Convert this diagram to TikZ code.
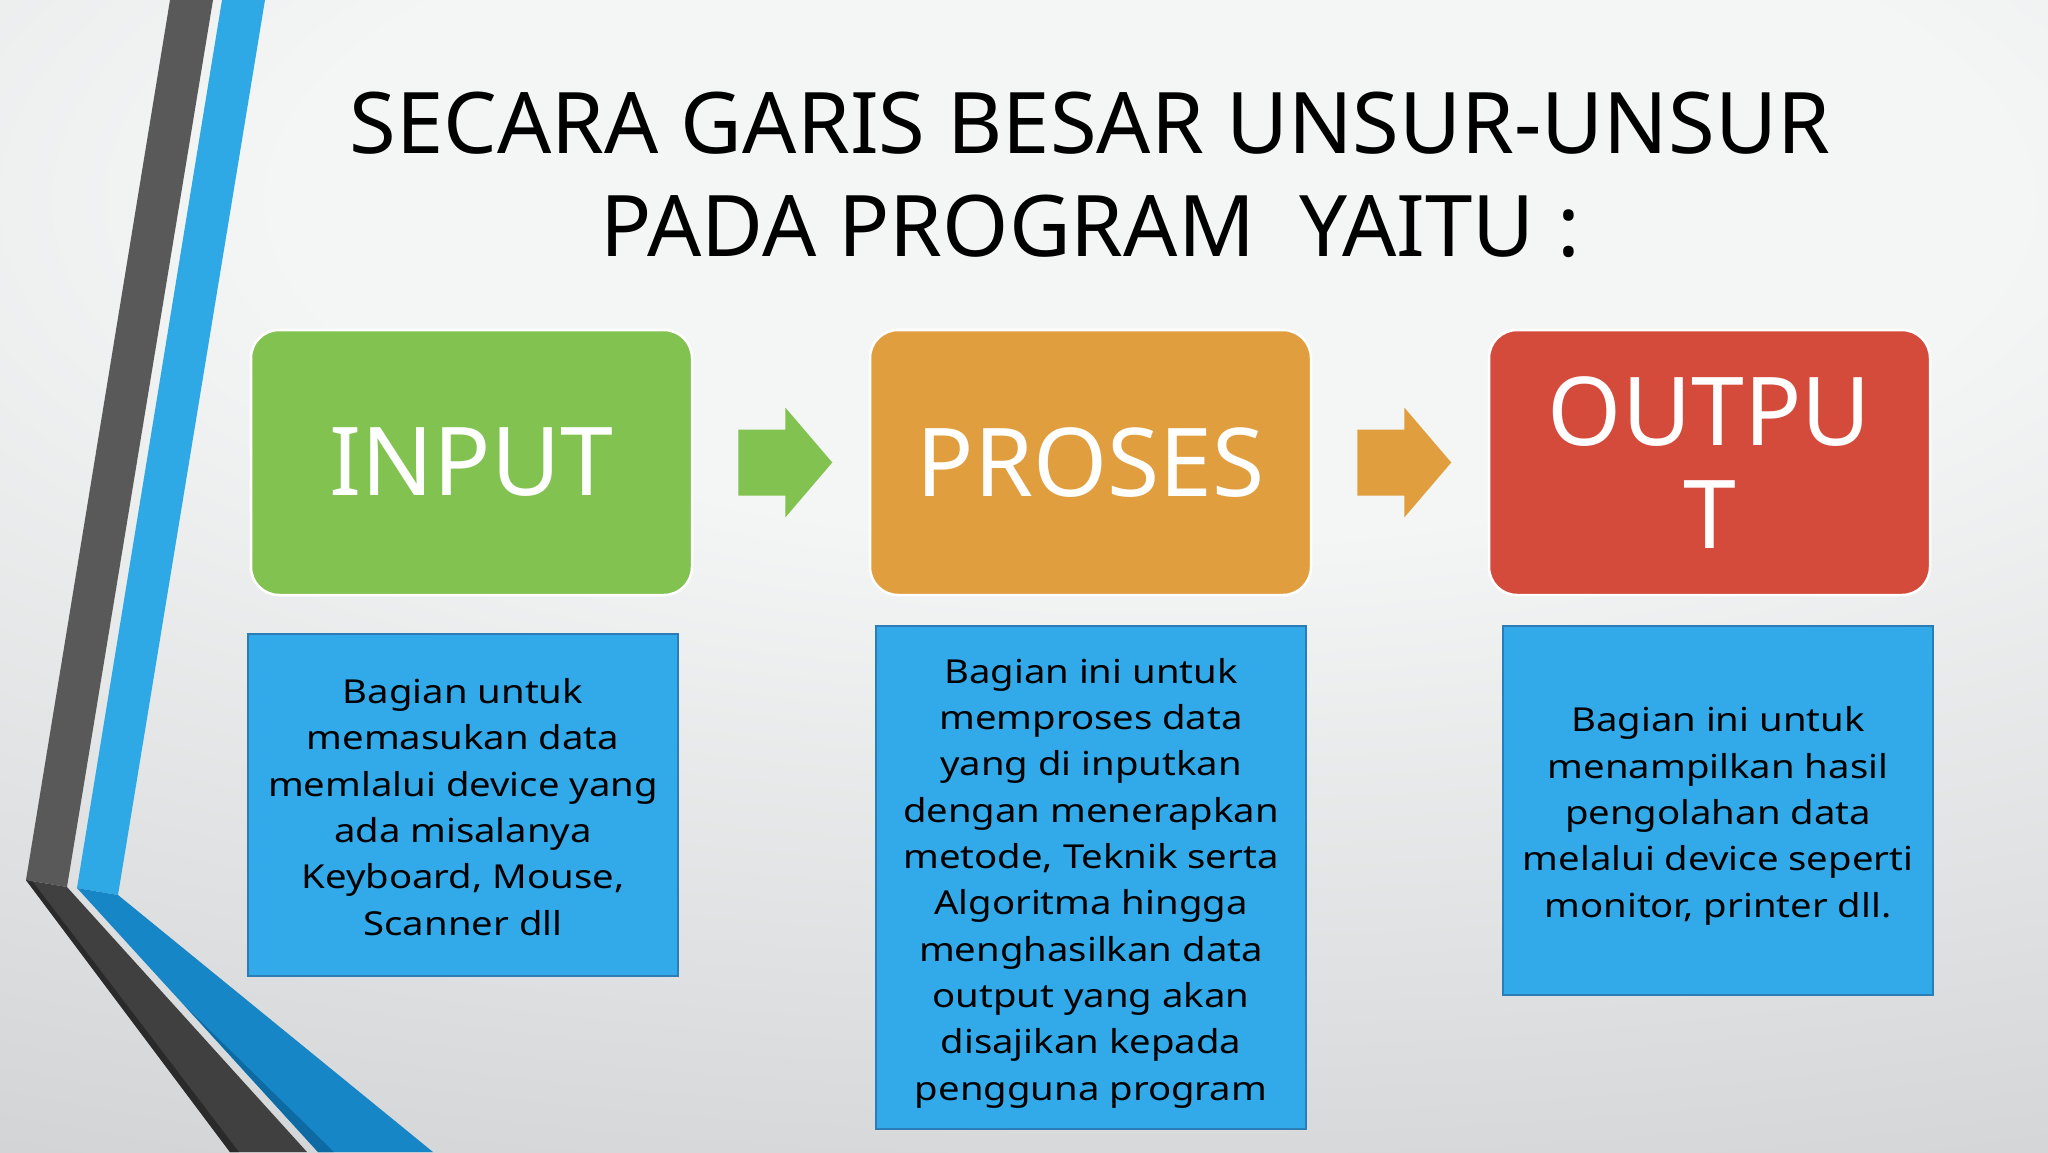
\documentclass[tikz,border=0pt]{standalone}
\usepackage{fontspec}
\setmainfont{Noto Sans}
\newfontfamily\descfont{Noto Sans}[FakeStretch=1.16]
\usetikzlibrary{calc}
\definecolor{bgin}{HTML}{F4F5F5}
\definecolor{bgout}{HTML}{B3B6B9}
\definecolor{dkA}{HTML}{595959}
\definecolor{dkB}{HTML}{404040}
\definecolor{dkC}{HTML}{2A2A2A}
\definecolor{blA}{HTML}{2FA9E6}
\definecolor{blB}{HTML}{1686C6}
\definecolor{blC}{HTML}{0E6AA3}
\definecolor{grn}{HTML}{81C250}
\definecolor{org}{HTML}{E19E3E}
\definecolor{rd}{HTML}{D44A3B}
\definecolor{bxfill}{HTML}{32AAE9}
\definecolor{bxline}{HTML}{2C7DB5}
\pgfdeclareradialshading{bgshade}{\pgfpoint{0bp}{0bp}}{color(0bp)=(bgin); color(5bp)=(bgin); color(25bp)=(bgout); color(50bp)=(bgout)}
\newcommand\blockarrow[2]{%
  \fill[#2] ($(#1.east)+(45,-33)$) -- ++(47,0) -- ++(0,-22) -- ($(#1.east)+(139,0)$)
    -- ($(#1.east)+(92,55)$) -- ++(0,-22) -- ($(#1.east)+(45,33)$) -- cycle;}
\tikzset{
  stage/.style={rounded corners=28, draw=white, line width=2.5, minimum width=441,
    minimum height=265, inner sep=0, text=white, font=\fontsize{95}{103}\selectfont, align=center},
  desc/.style={draw=bxline, line width=2, fill=bxfill, minimum width=430, inner sep=0},
  desctext/.style={align=center, anchor=base, inner sep=0, text=black,
    font=\descfont\fontsize{33}{46.3}\selectfont},
}
\begin{document}
\begin{tikzpicture}[x=1pt,y=-1pt]
\useasboundingbox (0,0) rectangle (2048,1152);
\begin{scope}
  \clip (0,0) rectangle (2048,1152);
  \shade[shading=bgshade] (1150,200) ellipse [x radius=4300, y radius=1700];
  % left decoration
  \fill[dkA] (170,0) -- (213,0) -- (67,887) -- (26,880) -- cycle;
  \fill[blA] (222,0) -- (265,0) -- (118,895) -- (77,888) -- cycle;
  \fill[dkB] (26,880) -- (67,887) -- (307,1152) -- (230,1152) -- cycle;
  \fill[dkC] (26,880) -- (33,882) -- (239,1152) -- (230,1152) -- cycle;
  \fill[blB] (77,888) -- (118,895) -- (433,1152) -- (318,1152) -- cycle;
  \fill[blC] (186,1007) -- (318,1152) -- (334,1152) -- cycle;
\end{scope}

\node[anchor=base, align=center, inner sep=0, text=black, font=\fontsize{85}{103}\selectfont]
  (title) at (1090,256) {SECARA GARIS BESAR UNSUR-UNSUR\\PADA PROGRAM\ \ YAITU :};

\node[stage, fill=grn] (in) at (471.5,462.5) {INPUT};
\node[stage, fill=org] (pro) at (1090.5,462.5) {PROSES};
\node[stage, fill=rd] (out) at (1709.5,462.5) {OUTPU\\T};

\blockarrow{in}{grn}
\blockarrow{pro}{org}

\node[desc, minimum height=342] (d1) at (463,804.5) {};
\node[desc, minimum height=503] (d2) at (1091,877.5) {};
\node[desc, minimum height=369] (d3) at (1718,810.5) {};

\node[desctext] (t1) at (463,935) {Bagian untuk\\memasukan data\\memlalui device yang\\ada misalanya\\Keyboard, Mouse,\\Scanner dll};
\node[desctext] (t2) at (1091,1100) {Bagian ini untuk\\memproses data\\yang di inputkan\\dengan menerapkan\\metode, Teknik serta\\Algoritma hingga\\menghasilkan data\\output yang akan\\disajikan kepada\\pengguna program};
\node[desctext] (t3) at (1718,917) {Bagian ini untuk\\menampilkan hasil\\pengolahan data\\melalui device seperti\\monitor, printer dll.};
\end{tikzpicture}
\end{document}
